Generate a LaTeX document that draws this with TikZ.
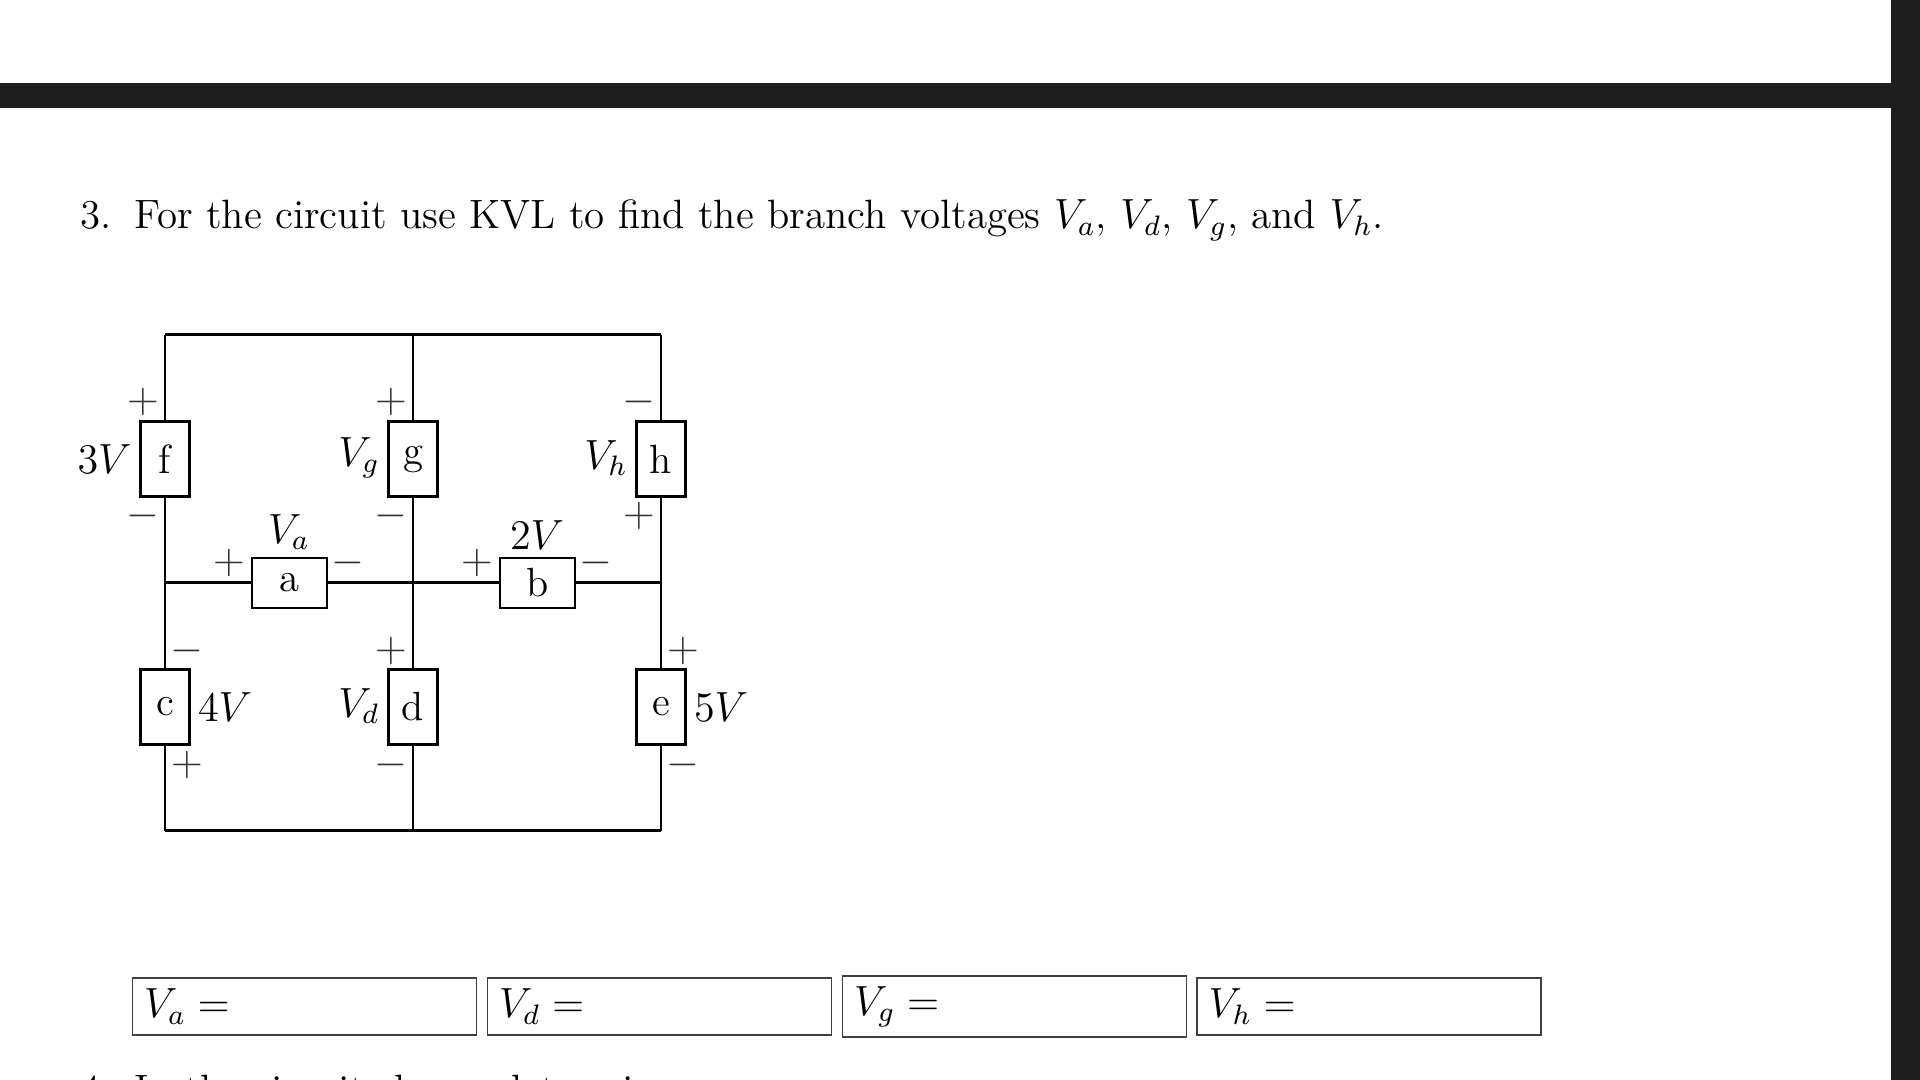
\documentclass[tikz,border=0pt]{standalone}
\usepackage{amsmath,amssymb}
\usetikzlibrary{positioning}
\definecolor{barcol}{HTML}{1E1E1E}
\tikzset{
  elem/.style={
      rectangle,
      draw,
      line width=0.75pt,
      fill=white,
      inner sep=0pt,
      font=\fontsize{11.6}{14}\selectfont
    },
  vbox/.style={
      elem,
      minimum height=0.75cm,
      minimum width=0.49cm
    },
  hbox/.style={
      elem,
      minimum height=0.5cm,
      minimum width=0.75cm
    },
  wire/.style={
      line width=0.85pt
    },
  val/.style={
      inner sep=0pt,
      font=\fontsize{11.6}{14}\selectfont
    },
  pol/.style={
      inner sep=0pt,
      text=black!80,
      font=\fontsize{11.6}{14}\selectfont
    },
  ans/.style={
      rectangle,
      draw=black!75,
      line width=0.5pt,
      minimum width=3.44cm,
      minimum height=0.57cm,
      inner sep=0pt
    },
  ansval/.style={
      inner sep=0pt,
      anchor=west,
      font=\fontsize{11.6}{14}\selectfont
    },
  body/.style={
      anchor=base west,
      inner sep=0pt,
      font=\fontsize{11.65}{14}\selectfont
    }
}

\begin{document}
\begin{tikzpicture}[x=0.01cm,y=-0.01cm]
  \useasboundingbox (0,0) rectangle (1920,1080);
  \fill[barcol] (0,83) rectangle (1920,108);
  \fill[barcol] (1891,0) rectangle (1920,1080);
  \node[body] (ttl) at (80,229) {3.\hspace{0.55em}For the circuit use KVL to find the branch voltages $V_a$, $V_d$, $V_g$, and $V_h$.};
  \begin{scope}
    \clip (0,1040) rectangle (1920,1080);
    \node[body] (nxt) at (80,1104) {4.\hspace{0.55em}In the circuit shown determine};
  \end{scope}
  % corners and junctions
  \coordinate (tl) at (165,335); \coordinate (tm) at (413,335); \coordinate (tr) at (661,335);
  \coordinate (ml) at (165,583); \coordinate (mm) at (413,583); \coordinate (mr) at (661,583);
  \coordinate (bl) at (165,831); \coordinate (bm) at (413,831); \coordinate (br) at (661,831);
  % elements
  \node[vbox] (f) at (165,459) {f}; \node[vbox] (g) at (413,459) {g}; \node[vbox] (h) at (661,459) {h};
  \node[vbox] (c) at (165,707) {c}; \node[vbox] (d) at (413,707) {d}; \node[vbox] (e) at (661,707) {e};
  \node[hbox] (a) at (289.5,583) {a}; \node[hbox] (b) at (537.5,583) {b};
  \draw[wire] (tl) -- (tm) -- (tr);
  \draw[wire] (bl) -- (bm) -- (br);
  \draw[wire] (tl) -- (f) -- (ml) -- (c) -- (bl);
  \draw[wire] (tm) -- (g) -- (mm) -- (d) -- (bm);
  \draw[wire] (tr) -- (h) -- (mr) -- (e) -- (br);
  \draw[wire] (ml) -- (a) -- (mm) -- (b) -- (mr);
  % signs
  \node[pol] (fp) at (143,402) {$+$}; \node[pol] (fm) at (143,516) {$-$};
  \node[pol] (gp) at (391,402) {$+$}; \node[pol] (gm) at (391,516) {$-$};
  \node[pol] (hm) at (639,402) {$-$}; \node[pol] (hp) at (639,516) {$+$};
  \node[pol] (ap) at (229,563) {$+$}; \node[pol] (am) at (348,563) {$-$};
  \node[pol] (bp) at (477,563) {$+$}; \node[pol] (bm2) at (596,563) {$-$};
  \node[pol] (cm) at (187,651) {$-$}; \node[pol] (cp) at (187,765) {$+$};
  \node[pol] (dp) at (391,651) {$+$}; \node[pol] (dm) at (391,765) {$-$};
  \node[pol] (ep) at (683,651) {$+$}; \node[pol] (em) at (683,765) {$-$};
  % values
  \node[val, left=0.07cm of f] (fv) {$3V$};
  \node[val] (gv) at (359,458) {$V_g$};
  \node[val] (hv) at (606,458) {$V_h$};
  \node[val] (av) at (289,532) {$V_a$};
  \node[val] (bv) at (537,535) {$2V$};
  \node[val] (cv) at (225,707) {$4V$};
  \node[val] (dv) at (359,706) {$V_d$};
  \node[val] (ev) at (721,707) {$5V$};
  % answers
  \node[ans] (ansa) at (304.5,1006.5) {}; \node[ans] (ansd) at (659.5,1006.5) {};
  \node[ans, minimum height=0.61cm] (ansg) at (1014.5,1006.5) {}; \node[ans] (ansh) at (1369,1006.5) {};
  \node[ansval] (vala) at ([xshift=0.12cm]ansa.west) {$V_a=$};
  \node[ansval] (vald) at ([xshift=0.12cm]ansd.west) {$V_d=$};
  \node[ansval] (valg) at ([xshift=0.12cm]ansg.west) {$V_g=$};
  \node[ansval] (valh) at ([xshift=0.12cm]ansh.west) {$V_h=$};
\end{tikzpicture}
\end{document}
